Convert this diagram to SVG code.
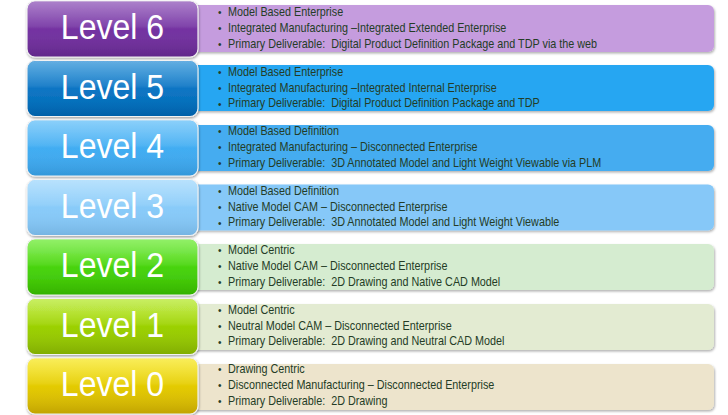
<svg xmlns="http://www.w3.org/2000/svg" width="728" height="415" viewBox="0 0 728 415">
<defs>
<style>
.big{font-family:"Liberation Sans",Arial,sans-serif;font-size:36px;fill:#ffffff;text-anchor:middle}
.sm{font-family:"Liberation Sans",Arial,sans-serif;font-size:12px;fill:#243c26;white-space:pre}
.bul{font-family:"Liberation Sans",Arial,sans-serif;font-size:10px;fill:#243c26}
.lb{stroke:#f2f2f2;stroke-width:1.2;filter:url(#sh)}
.rb{filter:url(#sh2)}
.gloss{fill:url(#gl)}
</style>
<filter id="sh" x="-10%" y="-20%" width="120%" height="150%">
<feDropShadow dx="0.5" dy="1.5" stdDeviation="1" flood-color="#000" flood-opacity="0.35"/>
</filter>
<filter id="sh2" x="-10%" y="-20%" width="120%" height="150%">
<feDropShadow dx="1" dy="1.5" stdDeviation="0.8" flood-color="#000" flood-opacity="0.3"/>
</filter>
<linearGradient id="gl" x1="0" y1="0" x2="0" y2="1">
<stop offset="0" stop-color="#fff" stop-opacity="0.35"/>
<stop offset="0.45" stop-color="#fff" stop-opacity="0.08"/>
<stop offset="0.5" stop-color="#fff" stop-opacity="0"/>
<stop offset="1" stop-color="#000" stop-opacity="0.08"/>
</linearGradient>
<linearGradient id="g6" x1="0" y1="0" x2="0" y2="1"><stop offset="0" stop-color="#7e3cae"/><stop offset="1" stop-color="#6a2a96"/></linearGradient>
<linearGradient id="g5" x1="0" y1="0" x2="0" y2="1"><stop offset="0" stop-color="#1282d2"/><stop offset="1" stop-color="#0068b6"/></linearGradient>
<linearGradient id="g4" x1="0" y1="0" x2="0" y2="1"><stop offset="0" stop-color="#4cb6f8"/><stop offset="1" stop-color="#38a4ec"/></linearGradient>
<linearGradient id="g3" x1="0" y1="0" x2="0" y2="1"><stop offset="0" stop-color="#92d2fc"/><stop offset="1" stop-color="#80c4f6"/></linearGradient>
<linearGradient id="g2" x1="0" y1="0" x2="0" y2="1"><stop offset="0" stop-color="#58e818"/><stop offset="1" stop-color="#38c000"/></linearGradient>
<linearGradient id="g1" x1="0" y1="0" x2="0" y2="1"><stop offset="0" stop-color="#ace608"/><stop offset="1" stop-color="#8cbc00"/></linearGradient>
<linearGradient id="g0" x1="0" y1="0" x2="0" y2="1"><stop offset="0" stop-color="#f6e400"/><stop offset="1" stop-color="#d2b200"/></linearGradient>
</defs>
<rect width="728" height="415" fill="#ffffff"/>

<g id="level6">
<rect class="rb" x="190" y="5" width="524" height="47" rx="6" fill="#c59cde"/>
<rect class="lb" x="27" y="1" width="171" height="56" rx="8" fill="url(#g6)"/>
<rect x="27.5" y="1.5" width="170" height="55" rx="8" class="gloss"/>
<text class="big" transform="translate(112.5,39) scale(0.89,1)">Level 6</text>
<text class="bul" x="218" y="16">•</text><text class="bul" x="218" y="32">•</text><text class="bul" x="218" y="48">•</text>
<g transform="translate(228,0) scale(0.9,1)">
<text class="sm" x="0" y="16.5">Model Based Enterprise</text>
<text class="sm" x="0" y="32.5">Integrated Manufacturing –Integrated Extended Enterprise</text>
<text class="sm" x="0" y="48">Primary Deliverable:  Digital Product Definition Package and TDP via the web</text>
</g>
</g>

<g id="level5">
<rect class="rb" x="190" y="65" width="524" height="46" rx="6" fill="#28a6f2"/>
<rect class="lb" x="27" y="60.5" width="171" height="56" rx="8" fill="url(#g5)"/>
<rect x="27.5" y="61" width="170" height="55" rx="8" class="gloss"/>
<text class="big" transform="translate(112.5,98.5) scale(0.89,1)">Level 5</text>
<text class="bul" x="218" y="75.5">•</text><text class="bul" x="218" y="91.5">•</text><text class="bul" x="218" y="107.5">•</text>
<g transform="translate(228,0) scale(0.9,1)">
<text class="sm" x="0" y="76">Model Based Enterprise</text>
<text class="sm" x="0" y="92">Integrated Manufacturing –Integrated Internal Enterprise</text>
<text class="sm" x="0" y="107.5">Primary Deliverable:  Digital Product Definition Package and TDP</text>
</g>
</g>

<g id="level4">
<rect class="rb" x="190" y="125" width="524" height="46" rx="6" fill="#44acf0"/>
<rect class="lb" x="27" y="120" width="171" height="56" rx="8" fill="url(#g4)"/>
<rect x="27.5" y="120.5" width="170" height="55" rx="8" class="gloss"/>
<text class="big" transform="translate(112.5,158) scale(0.89,1)">Level 4</text>
<text class="bul" x="218" y="135">•</text><text class="bul" x="218" y="151">•</text><text class="bul" x="218" y="167">•</text>
<g transform="translate(228,0) scale(0.9,1)">
<text class="sm" x="0" y="135.5">Model Based Definition</text>
<text class="sm" x="0" y="151.5">Integrated Manufacturing – Disconnected Enterprise</text>
<text class="sm" x="0" y="167">Primary Deliverable:  3D Annotated Model and Light Weight Viewable via PLM</text>
</g>
</g>

<g id="level3">
<rect class="rb" x="190" y="184.5" width="524" height="46" rx="6" fill="#86c8f8"/>
<rect class="lb" x="27" y="179.5" width="171" height="56" rx="8" fill="url(#g3)"/>
<rect x="27.5" y="180" width="170" height="55" rx="8" class="gloss"/>
<text class="big" transform="translate(112.5,217.5) scale(0.89,1)">Level 3</text>
<text class="bul" x="218" y="194.5">•</text><text class="bul" x="218" y="210.5">•</text><text class="bul" x="218" y="226.5">•</text>
<g transform="translate(228,0) scale(0.9,1)">
<text class="sm" x="0" y="195">Model Based Definition</text>
<text class="sm" x="0" y="211">Native Model CAM – Disconnected Enterprise</text>
<text class="sm" x="0" y="226.5">Primary Deliverable:  3D Annotated Model and Light Weight Viewable</text>
</g>
</g>

<g id="level2">
<rect class="rb" x="190" y="244" width="524" height="46" rx="6" fill="#d5ecd0"/>
<rect class="lb" x="27" y="239" width="171" height="56" rx="8" fill="url(#g2)"/>
<rect x="27.5" y="239.5" width="170" height="55" rx="8" class="gloss"/>
<text class="big" transform="translate(112.5,277) scale(0.89,1)">Level 2</text>
<text class="bul" x="218" y="254">•</text><text class="bul" x="218" y="270">•</text><text class="bul" x="218" y="286">•</text>
<g transform="translate(228,0) scale(0.9,1)">
<text class="sm" x="0" y="254.5">Model Centric</text>
<text class="sm" x="0" y="270.5">Native Model CAM – Disconnected Enterprise</text>
<text class="sm" x="0" y="286">Primary Deliverable:  2D Drawing and Native CAD Model</text>
</g>
</g>

<g id="level1">
<rect class="rb" x="190" y="304" width="524" height="46" rx="6" fill="#e3ebd2"/>
<rect class="lb" x="27" y="298.5" width="171" height="56" rx="8" fill="url(#g1)"/>
<rect x="27.5" y="299" width="170" height="55" rx="8" class="gloss"/>
<text class="big" transform="translate(112.5,336.5) scale(0.89,1)">Level 1</text>
<text class="bul" x="218" y="313.5">•</text><text class="bul" x="218" y="329.5">•</text><text class="bul" x="218" y="345.5">•</text>
<g transform="translate(228,0) scale(0.9,1)">
<text class="sm" x="0" y="314">Model Centric</text>
<text class="sm" x="0" y="330">Neutral Model CAM – Disconnected Enterprise</text>
<text class="sm" x="0" y="345.5">Primary Deliverable:  2D Drawing and Neutral CAD Model</text>
</g>
</g>

<g id="level0">
<rect class="rb" x="190" y="364" width="524" height="46" rx="6" fill="#ede4cc"/>
<rect class="lb" x="27" y="358" width="171" height="56" rx="8" fill="url(#g0)"/>
<rect x="27.5" y="358.5" width="170" height="55" rx="8" class="gloss"/>
<text class="big" transform="translate(112.5,396) scale(0.89,1)">Level 0</text>
<text class="bul" x="218" y="373">•</text><text class="bul" x="218" y="389">•</text><text class="bul" x="218" y="405">•</text>
<g transform="translate(228,0) scale(0.9,1)">
<text class="sm" x="0" y="373.5">Drawing Centric</text>
<text class="sm" x="0" y="389.5">Disconnected Manufacturing – Disconnected Enterprise</text>
<text class="sm" x="0" y="405">Primary Deliverable:  2D Drawing</text>
</g>
</g>
</svg>
